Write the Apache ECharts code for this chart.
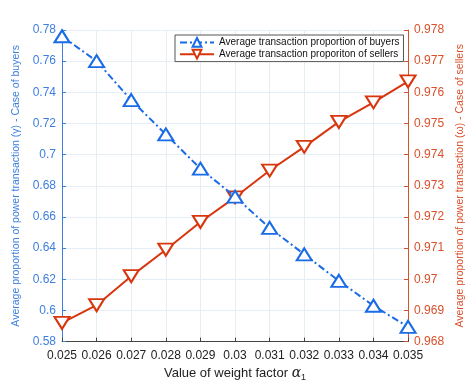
<!DOCTYPE html>
<html><head><meta charset="utf-8">
<script src="https://cdn.jsdelivr.net/npm/echarts@6/dist/echarts.min.js"></script>
<style>html,body{margin:0;padding:0;background:#fff}#c{width:474px;height:387px}</style>
</head><body><div id="c"></div>
<script>
const alphas = [0.025,0.026,0.027,0.028,0.029,0.030,0.031,0.032,0.033,0.034,0.035];
const buyers = [0.776,0.760,0.735,0.713,0.691,0.673,0.653,0.636,0.619,0.603,0.5895];
const sellers = [0.9686,0.96917,0.9701,0.97095,0.97184,0.97263,0.97349,0.97425,0.97505,0.97568,0.97635];
const leftTicks = [0.58,0.78,0.02];
const rightTicks = [0.968,0.978,0.001];

const blue = '#1a6be6', red = '#d8360f';
const blueTxt = '#3d7fe0', redTxt = '#d9502a';
const fam = '"Liberation Sans", Arial, sans-serif';
const downTri = 'path://M0,0 L10,0 L5,9 Z';
const upTri = 'path://M5,0 L10,9 L0,9 Z';

const chart = echarts.init(document.getElementById('c'));
chart.setOption({
  animation:false,
  textStyle:{fontFamily:fam},
  grid:{left:62,right:54,top:30,bottom:42},
  legend:{
    left:175, top:35, orient:'vertical', itemGap:1, itemWidth:34, itemHeight:11,
    padding:[2,4,2,4], borderColor:'#555', borderWidth:1, backgroundColor:'#fff',
    textStyle:{fontSize:10, color:'#111', fontFamily:fam},
    data:['Average transaction proportion of buyers','Average transaction proporiton of sellers']
  },
  xAxis:{
    type:'value', min:0.025, max:0.035, interval:0.001,
    name:'{a|Value of weight factor }{g|α}{s|1}', nameLocation:'middle', nameGap:23,
    nameTextStyle:{rich:{a:{fontSize:13,color:'#222',fontFamily:fam},g:{fontSize:14,color:'#222',fontFamily:'"DejaVu Serif", serif',fontStyle:'italic'},s:{fontSize:9,color:'#222',verticalAlign:'bottom',padding:[8,0,0,0]}}},
    axisLine:{lineStyle:{color:'#444'}},
    axisTick:{inside:true,length:4,lineStyle:{color:'#444'}},
    axisLabel:{fontSize:12,color:'#222',margin:8,formatter:v=>String(+v.toFixed(3))},
    splitLine:{show:true,lineStyle:{color:'#e6eef5'}}
  },
  yAxis:[{
    type:'value', min:leftTicks[0], max:leftTicks[1], interval:leftTicks[2], position:'left',
    name:'Average proportion of power transaction (γ) - Case of buyers',
    nameLocation:'middle', nameGap:34, nameTextStyle:{fontSize:10.5,color:blueTxt},
    axisLine:{show:true,lineStyle:{color:blueTxt}},
    axisTick:{show:true,inside:true,length:4,lineStyle:{color:blueTxt}},
    axisLabel:{fontSize:12,color:blueTxt,margin:6,formatter:v=>String(+v.toFixed(2))},
    splitLine:{show:true,lineStyle:{color:'#e6eef5'}}
  },{
    type:'value', min:rightTicks[0], max:rightTicks[1], interval:rightTicks[2], position:'right',
    name:'Average proportion of power transaction (ω) - Case of sellers',
    nameLocation:'middle', nameGap:43, nameRotate:90, nameTextStyle:{fontSize:10.5,color:redTxt},
    axisLine:{show:true,lineStyle:{color:redTxt}},
    axisTick:{show:true,inside:true,length:4,lineStyle:{color:redTxt}},
    axisLabel:{fontSize:12,color:redTxt,margin:6,formatter:v=>String(+v.toFixed(3))},
    splitLine:{show:false}
  }],
  series:[{
    name:'Average transaction proportion of buyers', type:'line', yAxisIndex:0,
    data:alphas.map((a,i)=>[a,buyers[i]]),
    symbol:upTri, symbolSize:[15,12], showAllSymbol:true,
    itemStyle:{color:'#fff',borderColor:blue,borderWidth:2},
    lineStyle:{color:blue,width:2,type:[7,3,2,3]}, z:3
  },{
    name:'Average transaction proporiton of sellers', type:'line', yAxisIndex:1,
    data:alphas.map((a,i)=>[a,sellers[i]]),
    symbol:downTri, symbolSize:[15,12], showAllSymbol:true,
    itemStyle:{color:'#fff',borderColor:red,borderWidth:2},
    lineStyle:{color:red,width:2}, z:2
  }]
});
</script></body></html>
